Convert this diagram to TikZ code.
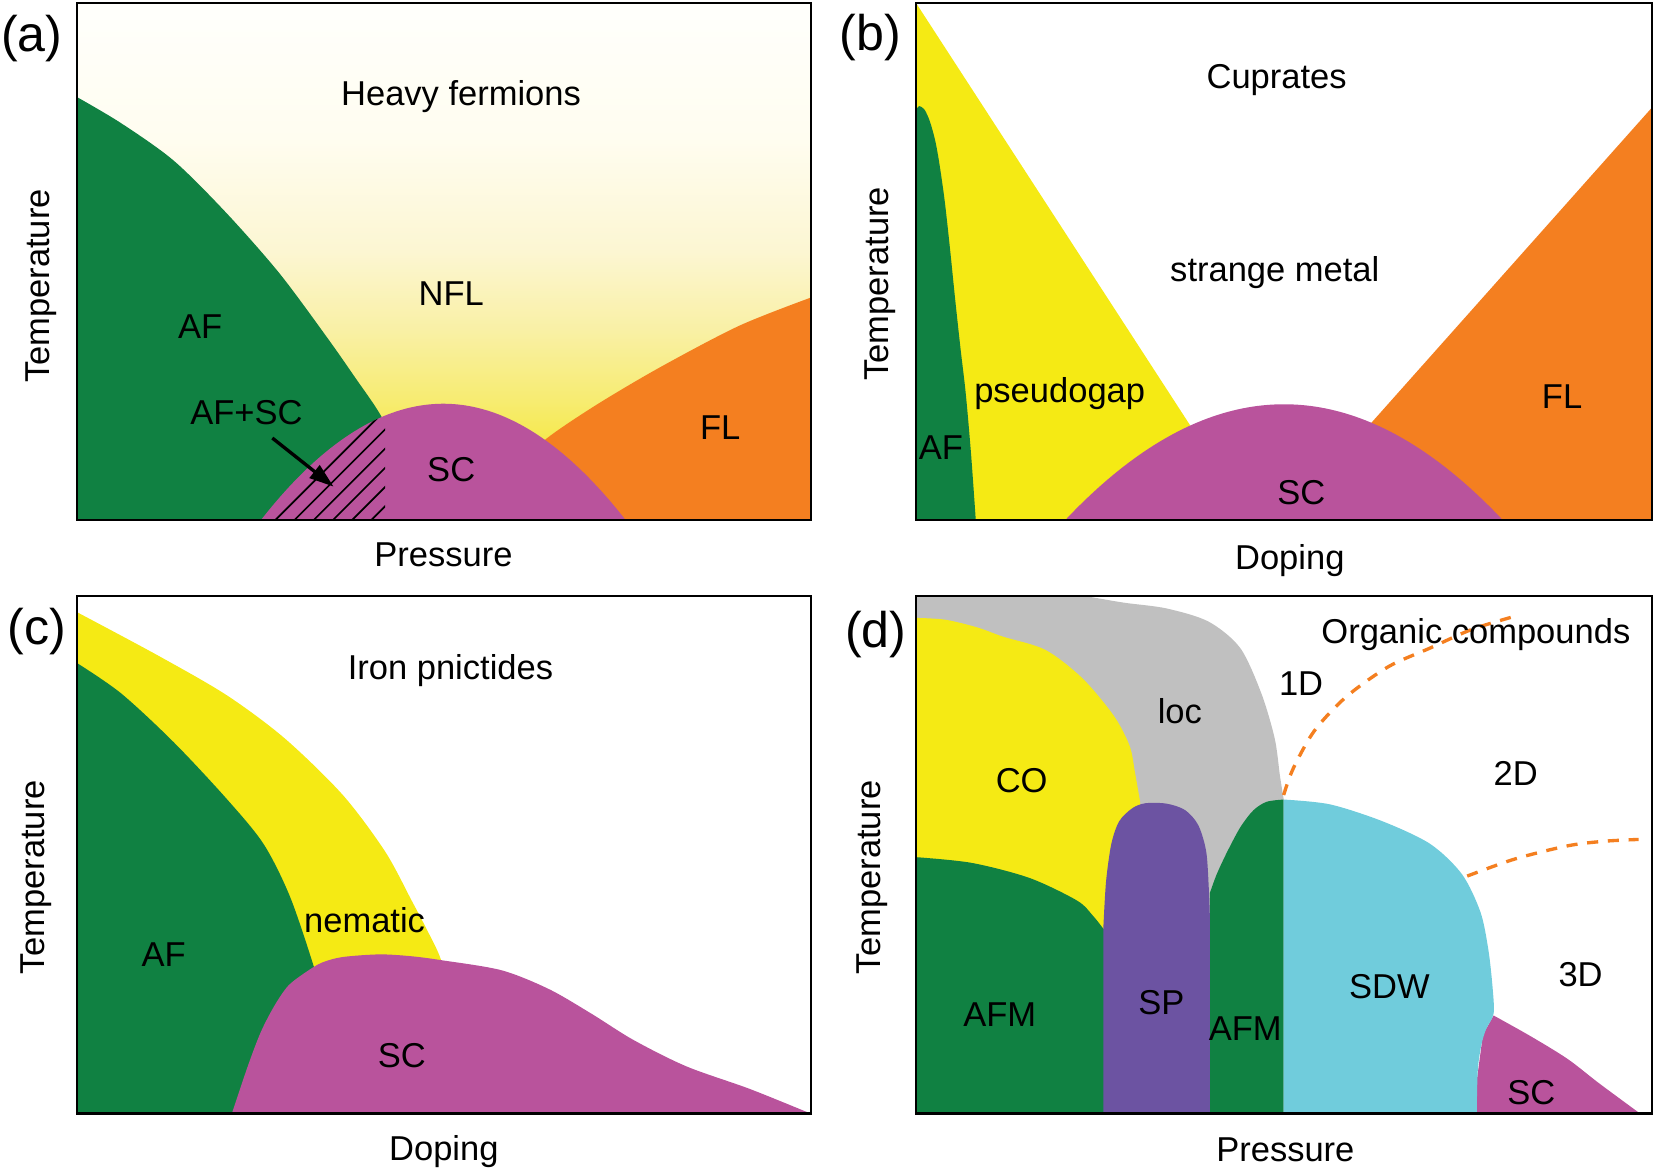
\documentclass[tikz,border=0pt]{standalone}
\usepackage{fontspec}
\setmainfont{Liberation Sans}
\usetikzlibrary{arrows.meta}
\definecolor{afgreen}{HTML}{108142}
\definecolor{scmag}{HTML}{B9539C}
\definecolor{florange}{HTML}{F47F20}
\definecolor{pgyellow}{HTML}{F5EA14}
\definecolor{locgray}{HTML}{C0C0C0}
\definecolor{sppurple}{HTML}{6C53A2}
\definecolor{sdwcyan}{HTML}{70CCDC}
\definecolor{gA}{HTML}{FFFFFC}
\definecolor{gB}{HTML}{FFFDF0}
\definecolor{gC}{HTML}{FCF6D2}
\definecolor{gD}{HTML}{F9F0A5}
\definecolor{gE}{HTML}{F7EC72}
\definecolor{gF}{HTML}{F5E94E}
\definecolor{gG}{HTML}{F4E63A}
\pgfdeclareverticalshading{nflshade}{100bp}{color(0bp)=(gG); color(25bp)=(gG); color(32.7bp)=(gF); color(36.7bp)=(gE); color(43.4bp)=(gD); color(51bp)=(gC); color(62bp)=(gB); color(75bp)=(gA); color(100bp)=(gA)}
\begin{document}
\begin{tikzpicture}[x=0.01cm,y=-0.01cm,
  lab/.style={font=\fontsize{9.3}{11}\selectfont, inner sep=0pt, anchor=base},
  tlab/.style={font=\fontsize{9.3}{11}\selectfont, inner sep=0pt, rotate=90},
  plab/.style={font=\fontsize{13.5}{16}\selectfont, inner sep=0pt, anchor=base},
  frame/.style={draw=black, line width=0.6pt},
  hatchline/.style={black, line width=0.45pt},
  ptr/.style={black, line width=0.9pt, -{Triangle[length=2.3mm,width=1.5mm]}},
  bound/.style={draw=florange, line width=0.9pt, dash pattern=on 3pt off 2.6pt}
]
\useasboundingbox (0,0) rectangle (1568,1111);

% ================= panel (a) =================
\shade[shading=nflshade] (73,3) rectangle (768,493);
\fill[afgreen] (73,493) -- (73,92) -- plot[smooth] coordinates {(73,92) (114.6,116.6) (164.6,152.2) (214.7,202) (264.8,259) (309.8,319.6) (336,357) (361,394) (380,435) (390,470)} -- (390,493) -- cycle;
\fill[florange] (768,493) -- (768,282) -- plot[smooth] coordinates {(768,282) (700.4,308.6) (625.3,348) (565,383.6) (517.6,415.7) (495,440) (480,470)} -- (480,493) -- cycle;
\fill[scmag] plot[domain=247:593,samples=90] (\x,{382.5+110.5*((\x-420)/173)^2}) -- cycle;
\begin{scope}
  \clip plot[domain=247:593,samples=90] (\x,{382.5+110.5*((\x-420)/173)^2}) -- cycle;
  \clip (240,370) rectangle (364.8,493);
  \foreach \hx in {260.5,278.7,296.9,315.1,333.3,351.5}
    \draw[hatchline] (\hx,493) -- ++(160,-160);
\end{scope}
\coordinate (arrowtail) at (258,415);
\coordinate (arrowtip) at (316,461);
\draw[ptr] (arrowtail) -- (arrowtip);
\draw[frame] (73,3) rectangle (768,493);
\node[plab] (pa) at (30,49) {(a)};
\node[lab] (hf) at (436.8,99.5) {Heavy fermions};
\node[lab] (nfl) at (427.5,289.8) {NFL};
\node[lab] (afa) at (189.7,321) {AF};
\node[lab] (afsc) at (233.5,402.5) {AF+SC};
\node[lab] (sca) at (427.5,456) {SC};
\node[lab] (fla) at (682.3,416) {FL};
\node[lab] (pra) at (420.2,537) {Pressure};
\node[tlab] (tea) at (39.4,271) {Temperature};

% ================= panel (b) =================
\fill[pgyellow] (868,3) -- (1186,493) -- (868,493) -- cycle;
\fill[afgreen] (868,493) -- (868,104) -- plot[smooth] coordinates {(868,104) (871,100.5) (876,104) (881,115) (886,133) (890,155) (895,190) (900,235) (905,284) (910,330) (915,373) (920,430) (924.5,493)} -- cycle;
\fill[florange] (1565,102) -- (1217,493) -- (1565,493) -- cycle;
\fill[scmag] plot[domain=1009:1424,samples=90] (\x,{383+110*((\x-1216.5)/207.5)^2}) -- cycle;
\draw[frame] (868,3) rectangle (1565,493);
\node[plab] (pb) at (824.5,48) {(b)};
\node[lab] (cup) at (1209.5,84) {Cuprates};
\node[lab] (sm) at (1207.8,267) {strange metal};
\node[lab] (pg) at (1004,381) {pseudogap};
\node[lab] (afb) at (891.5,435) {AF};
\node[lab] (scb) at (1233,478) {SC};
\node[lab] (flb) at (1480,387) {FL};
\node[lab] (dob) at (1222,540) {Doping};
\node[tlab] (teb) at (833.5,269) {Temperature};

% ================= panel (c) =================
\fill[pgyellow] (73,1055) -- (73,580) -- plot[smooth] coordinates {(73,580) (149.6,621) (214.7,658.6) (269.8,699.6) (324.8,753.2) (364.9,806.8) (390,853.2) (405,881.8) (417.5,908.5) (424,940)} -- (424,1055) -- cycle;
\fill[afgreen] (73,1055) -- (73,628.2) -- plot[smooth] coordinates {(73,628.2) (114.6,656.8) (164.6,703.2) (214.7,756.8) (249.7,799.6) (274.8,849.6) (297.3,915.7) (303,940) (306,970)} -- (306,1055) -- cycle;
\fill[scmag] plot[smooth] coordinates {(219.7,1055) (234.7,1010.3) (247,978) (259.8,953.2) (273,934) (289.8,921) (305,912) (324.8,906.7) (359.9,904.2) (390,906) (417.5,909.6) (475,919.2) (520.1,937.1) (560.2,960.3) (600.2,985.3) (650.3,1010.3) (710.4,1031.7) (768,1055)} -- cycle;
\draw[frame] (73,565) rectangle (768,1055);
\node[plab] (pc) at (35,610.5) {(c)};
\node[lab] (ip) at (426.8,644) {Iron pnictides};
\node[lab] (nem) at (345.4,883.5) {nematic};
\node[lab] (afc) at (155,916) {AF};
\node[lab] (scc) at (380.7,1011) {SC};
\node[lab] (doc) at (420.5,1099.5) {Doping};
\node[tlab] (tec) at (34.5,831) {Temperature};

% ================= panel (d) =================
\fill[locgray] (868,1055) -- (868,565) -- (1030,565) -- plot[smooth] coordinates {(1030,565) (1065,571) (1105,576.4) (1145,588.9) (1175,613.9) (1195,656.8) (1207.7,699.6) (1212.7,735.3) (1216.2,757)} -- (1216.2,1055) -- cycle;
\fill[pgyellow] (868,1055) -- (868,585.4) -- plot[smooth] coordinates {(868,585.4) (895.5,587.1) (925.5,594.3) (950.4,603.2) (990.4,615.7) (1025.4,642.5) (1055.3,678.2) (1070.3,706.8) (1075.3,731.8) (1080.3,760.3)} -- (1082,1055) -- cycle;
\fill[afgreen] (868,1055) -- (868,812.1) -- plot[smooth] coordinates {(868,812.1) (920.5,817.5) (975.4,831.8) (1020.4,853.2) (1035.4,867.5) (1045.4,880)} -- (1060,880) -- (1060,1055) -- cycle;
\fill[afgreen] (1146.3,1055) -- (1146.3,846) -- plot[smooth] coordinates {(1146.3,846) (1152.8,828.2) (1162.8,806.8) (1175.3,783.5) (1187.7,767.5) (1200.2,759.6) (1216.2,757.5)} -- (1216.2,1055) -- cycle;
\fill[sppurple] (1045.4,1055) -- (1045.4,878) -- plot[smooth] coordinates {(1045.4,878) (1047.9,835.3) (1052.9,799.6) (1060.3,778.2) (1072.8,765.7) (1085.3,761) (1105.3,761.4) (1122.8,767.5) (1135.3,781.8) (1142.8,806.8) (1145.3,842.5) (1146.3,870)} -- (1146.3,1055) -- cycle;
\fill[scmag] plot[smooth] coordinates {(1415.1,962.1) (1450.1,981.7) (1485.1,1003.2) (1515.1,1026.4) (1552.5,1054)} -- (1395,1055) -- (1405,980) -- cycle;
\fill[sdwcyan] (1216.2,1055) -- (1216.2,757.5) -- plot[smooth] coordinates {(1216.2,757.5) (1260.2,762.1) (1310.1,778.2) (1355.1,799.6) (1385.1,828.2) (1402.6,864) (1410.1,899.6) (1414.1,935.3) (1415.1,960.3) (1408,975) (1403.5,990) (1400.1,1013.9) (1399.1,1055)} -- cycle;
\draw[bound] plot[smooth] coordinates {(1216.2,753.2) (1225.2,728.2) (1245.2,692.5) (1275.2,660.4) (1315.1,631.8) (1355.1,613.9) (1395.1,596.1) (1440,582.5)};
\draw[bound] plot[smooth] coordinates {(1390.1,830) (1435,813.9) (1485,801.4) (1520,797) (1552.5,795.3)};
\draw[frame] (868,565) rectangle (1565,1055);
\node[plab] (pd) at (829.6,613) {(d)};
\node[lab] (org) at (1398.3,609.6) {Organic compounds};
\node[lab] (oned) at (1232.7,658.5) {1D};
\node[lab] (loc) at (1117.8,685) {loc};
\node[lab] (co) at (968,750.5) {CO};
\node[lab] (twod) at (1436,744) {2D};
\node[lab] (threed) at (1497.5,935) {3D};
\node[lab] (sdw) at (1316.4,946) {SDW};
\node[lab] (sp) at (1100.3,961.5) {SP};
\node[lab] (afml) at (947.2,972.5) {AFM};
\node[lab] (afmm) at (1179.8,986) {AFM};
\node[lab] (scd) at (1450.8,1046) {SC};
\node[lab] (prd) at (1217.8,1100) {Pressure};
\node[tlab] (ted) at (826.8,831) {Temperature};
\end{tikzpicture}
\end{document}
